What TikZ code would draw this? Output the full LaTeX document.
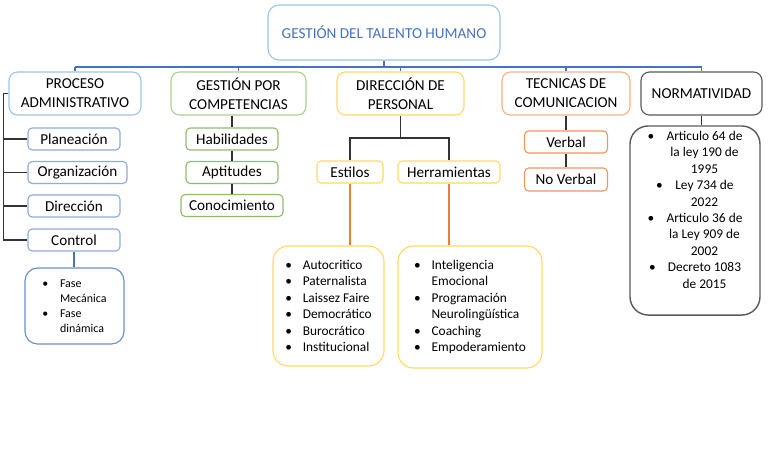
\documentclass[tikz,border=0pt]{standalone}
\usepackage{fontspec}
\setmainfont{Carlito}
\usetikzlibrary{positioning}

\definecolor{tblue}{HTML}{4472C4}
\definecolor{lblue}{HTML}{9DC3E6}
\definecolor{mblue}{HTML}{8FAADC}
\definecolor{lgreen}{HTML}{A9D18E}
\definecolor{dgreen}{HTML}{70AD47}
\definecolor{tyellow}{HTML}{FFD966}
\definecolor{lorange}{HTML}{F4B183}
\definecolor{dorange}{HTML}{ED7D31}
\definecolor{tgray}{HTML}{595959}

\newcommand{\blt}{\makebox[12.5pt][l]{\textbullet}}
\newcommand{\cnt}{\hspace*{12.5pt}}

\tikzset{
  box/.style={draw,line width=0.8pt,align=center,text=black,inner sep=2pt,
    font=\fontsize{10.8}{13.5}\selectfont},
  head/.style={box,rounded corners=6pt,minimum height=1.075cm},
  item/.style={box,rounded corners=3pt,minimum height=0.55cm},
  lst/.style={box,rounded corners=11pt,align=left,font=\fontsize{9.5}{11.7}\selectfont},
  tree/.style={black!80,line width=0.8pt},
}

\begin{document}
\begin{tikzpicture}
\useasboundingbox (0,0) rectangle (19.2,-11.275);
% title
\node[box,draw=lblue,text=tblue,rounded corners=8pt,minimum width=5.8cm,minimum height=1.375cm] (title)at(9.6,-0.8125){GESTIÓN DEL TALENTO HUMANO};
% first level
\node[head,draw=lblue,minimum width=3.3cm] (proc)at(1.875,-2.3375){PROCESO\\ADMINISTRATIVO};
\node[head,draw=lgreen,minimum width=3.375cm] (comp)at(5.9625,-2.3375){GESTIÓN POR\\COMPETENCIAS};
\node[head,draw=tyellow,minimum width=3.175cm] (dirp)at(10.0125,-2.3375){DIRECCIÓN DE\\PERSONAL};
\node[head,draw=lorange,minimum width=3.2cm] (tec)at(14.15,-2.3375){TECNICAS DE\\COMUNICACION};
\node[head,draw=tgray,minimum width=3.025cm] (norm)at(17.5375,-2.3375){NORMATIVIDAD};
\coordinate (bus)at(0,-1.675);
\draw[tblue,line width=1pt] (title.south) -- (title.south|-bus);
\draw[tblue,line width=1pt] (proc.north|-bus) -- (norm.north|-bus);
\foreach \n in {proc,comp,dirp,tec,norm}
  \draw[tblue,line width=1pt] (\n.north|-bus) -- (\n.north);
% proceso administrativo
\node[item,draw=mblue,minimum width=2.3cm] (plan)at(1.85,-3.475){Planeación};
\node[item,draw=mblue,minimum width=2.475cm] (org)at(1.9375,-4.3125){Organización};
\node[item,draw=mblue,minimum width=2.3cm] (dirc)at(1.85,-5.15){Dirección};
\node[item,draw=mblue,minimum width=2.3cm] (ctrl)at(1.85,-6.0){Control};
\node[lst,draw=tblue!80,rounded corners=9pt,minimum width=2.475cm,minimum height=1.9cm,
  font=\fontsize{8.5}{10.6}\selectfont] (fase)at(1.8625,-7.65){\blt Fase\\\cnt Mecánica\\\blt Fase\\\cnt dinámica};
\draw[tree] (proc.west) -- ++(-0.125,0) |- (plan.west);
\foreach \n in {org,dirc,ctrl}
  \draw[tree] (proc.west) -- ++(-0.125,0) |- (\n.west);
\draw[tblue,line width=1.2pt] (ctrl.south) -- (ctrl.south|-fase.north);
% gestion por competencias
\node[item,draw=dgreen!80,minimum width=2.3cm] (hab)at(5.8,-3.475){Habilidades};
\node[item,draw=dgreen!80,minimum width=2.3cm] (apt)at(5.8,-4.3125){Aptitudes};
\node[item,draw=dgreen!80,minimum width=2.55cm] (con)at(5.8,-5.1375){Conocimiento};
\draw[tree] (hab.north|-comp.south) -- (hab.north);
\draw[tree] (hab.south) -- (apt.north);
\draw[tree] (apt.south) -- (con.north);
% direccion de personal
\node[item,draw=tyellow,minimum width=1.65cm] (est)at(8.75,-4.3){Estilos};
\node[item,draw=tyellow,minimum width=2.55cm] (herr)at(11.225,-4.3){Herramientas};
\coordinate (dsplit)at(10.0125,-3.45);
\draw[tree] (dirp.south) -- (dsplit);
\draw[tree] (est.north) |- (dsplit) -| (herr.north);
\node[lst,draw=tyellow,minimum width=2.775cm,minimum height=3cm] (estl)at(8.2125,-7.65){\blt Autocritico\\\blt Paternalista\\\blt Laissez Faire\\\blt Democrático\\\blt Burocrático\\\blt Institucional};
\node[lst,draw=tyellow,minimum width=3.6cm,minimum height=3.05cm] (herrl)at(11.75,-7.675){\blt Inteligencia\\\cnt Emocional\\\blt Programación\\\cnt Neurolingüística\\\blt Coaching\\\blt Empoderamiento};
\draw[dorange,line width=1.2pt] (est.south) -- (est.south|-estl.north);
\draw[dorange,line width=1.2pt] (herr.south) -- (herr.south|-herrl.north);
% tecnicas de comunicacion
\node[item,draw=dorange!80,minimum width=2.075cm] (verb)at(14.15,-3.55){Verbal};
\node[item,draw=dorange!80,minimum width=2.075cm,minimum height=0.575cm] (nverb)at(14.15,-4.4875){No Verbal};
\draw[tree] (tec.south) -- (verb.north);
\draw[tree] (verb.south) -- (nverb.north);
% normatividad
\node[lst,draw=tgray,line width=1pt,rounded corners=13pt,minimum width=3.25cm,minimum height=4.625cm] (norml)at(17.375,-5.5125){%
\begin{tabular}{@{}l@{}c@{}}
\makebox[13.5pt][l]{\textbullet} & Articulo 64 de\\
 & la ley 190 de\\
 & 1995\\
\makebox[13.5pt][l]{\hspace{6pt}\textbullet} & Ley 734 de\\
 & 2022\\
\makebox[13.5pt][l]{\textbullet} & Articulo 36 de\\
 & la Ley 909 de\\
 & 2002\\
\makebox[13.5pt][l]{\hspace{1pt}\textbullet} & Decreto 1083\\
 & de 2015\\[13.5pt]
\end{tabular}};
\draw[tree] (norm.south) -- (norm.south|-norml.north);
\end{tikzpicture}
\end{document}
